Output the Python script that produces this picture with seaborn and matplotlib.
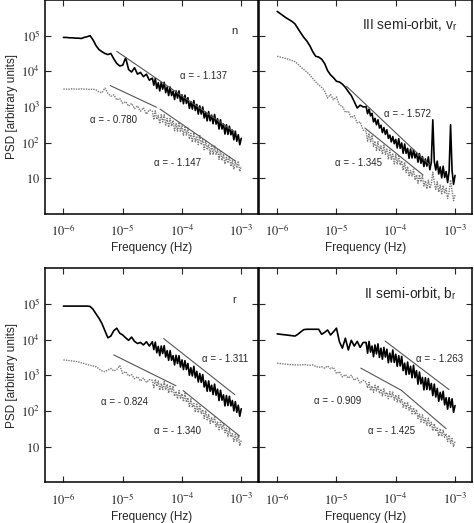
import numpy as np
import matplotlib
matplotlib.use('Agg')
import matplotlib.pyplot as plt
import seaborn as sns

sns.set_style('ticks')
plt.rcParams['font.family'] = ['Liberation Sans', 'DejaVu Sans']
plt.rcParams['mathtext.fontset'] = 'stix'

# log10 frequency (Hz): coarse below 10^-4.5, finer in the noisy part
log_freq = np.round(np.concatenate([np.arange(30) * 0.05 - 6.0,
                                    np.arange(61) * 0.025 - 4.5]), 3)

# log10 PSD, one list per curve
n_solid = [4.95, 4.95, 4.94, 4.94, 4.93, 4.93, 4.92, 4.95, 4.97, 5.00,
           4.88, 4.72, 4.61, 4.55, 4.50, 4.47, 4.50, 4.35, 4.22, 4.15,
           4.17, 4.38, 4.05, 3.98, 4.10, 3.92, 3.97, 3.85, 3.92, 3.75,
           3.81, 3.61, 3.80, 3.52, 3.68, 3.45, 3.69, 3.50, 3.69, 3.40,
           3.56, 3.32, 3.56, 3.32, 3.44, 3.21, 3.45, 3.25, 3.45, 3.15,
           3.34, 3.09, 3.33, 3.10, 3.26, 2.96, 3.15, 2.94, 3.18, 2.90,
           3.07, 2.80, 3.03, 2.80, 3.00, 2.69, 2.85, 2.61, 2.87, 2.61,
           2.77, 2.53, 2.79, 2.52, 2.67, 2.38, 2.64, 2.38, 2.52, 2.24,
           2.50, 2.23, 2.46, 2.22, 2.35, 2.08, 2.32, 2.04, 2.22, 1.94, 2.12]
n_dotted = [3.50, 3.50, 3.50, 3.51, 3.50, 3.50, 3.51, 3.50, 3.50, 3.49,
            3.50, 3.48, 3.42, 3.40, 3.53, 3.38, 3.30, 3.34, 3.20, 3.24,
            3.10, 3.15, 3.02, 3.10, 2.95, 3.03, 2.88, 2.98, 2.80, 2.92,
            2.88, 2.64, 2.89, 2.65, 2.76, 2.53, 2.78, 2.58, 2.78, 2.49,
            2.68, 2.43, 2.68, 2.46, 2.62, 2.33, 2.53, 2.32, 2.57, 2.30,
            2.47, 2.20, 2.43, 2.21, 2.41, 2.10, 2.26, 2.01, 2.28, 2.02,
            2.18, 1.94, 2.20, 1.94, 2.09, 1.80, 2.06, 1.80, 1.95, 1.67,
            1.93, 1.67, 1.91, 1.67, 1.80, 1.53, 1.78, 1.50, 1.68, 1.40,
            1.59, 1.43, 1.62, 1.33, 1.49, 1.25, 1.49, 1.29, 1.48, 1.19, 1.34]
vr_solid = [5.68, 5.62, 5.56, 5.50, 5.45, 5.40, 5.33, 5.20, 5.07, 4.95,
            4.85, 4.72, 4.55, 4.42, 4.40, 4.34, 4.22, 4.02, 3.90, 3.82,
            3.72, 3.70, 3.64, 3.55, 3.43, 3.32, 3.15, 2.97, 3.05, 3.00,
            3.01, 2.81, 2.94, 2.75, 2.82, 2.58, 2.68, 2.50, 2.64, 2.41,
            2.49, 2.28, 2.42, 2.23, 2.36, 2.12, 2.21, 2.02, 2.17, 1.97,
            2.09, 1.85, 2.11, 1.84, 1.99, 1.70, 1.96, 1.70, 1.84, 1.56,
            1.82, 1.57, 1.80, 1.57, 1.71, 1.45, 1.69, 1.42, 1.61, 1.33,
            1.54, 1.34, 1.60, 1.24, 1.45, 2.64, 1.48, 1.23, 1.48, 1.12,
            1.32, 1.01, 1.34, 1.02, 1.19, 0.88, 1.20, 2.50, 1.21, 0.83, 1.08]
vr_dotted = [4.42, 4.40, 4.38, 4.36, 4.33, 4.30, 4.27, 4.20, 4.12, 4.05,
             3.98, 3.90, 3.80, 3.70, 3.62, 3.55, 3.45, 3.25, 3.35, 3.20,
             3.28, 3.05, 3.02, 2.85, 2.88, 2.70, 2.76, 2.55, 2.58, 2.35,
             2.32, 2.04, 2.26, 2.02, 2.21, 1.89, 2.04, 1.78, 2.03, 1.76,
             1.91, 1.67, 1.93, 1.67, 1.82, 1.53, 1.79, 1.53, 1.68, 1.40,
             1.66, 1.39, 1.62, 1.37, 1.49, 1.22, 1.45, 1.16, 1.33, 1.05,
             1.22, 1.06, 1.25, 0.95, 1.10, 0.86, 1.10, 0.90, 1.07, 0.78,
             0.93, 0.70, 0.95, 0.72, 0.85, 1.17, 0.88, 0.69, 0.90, 0.61,
             0.81, 0.56, 0.80, 0.57, 0.72, 0.43, 0.62, 0.95, 0.65, 0.37, 0.53]
r_solid = [4.94, 4.94, 4.94, 4.94, 4.94, 4.94, 4.94, 4.94, 4.94, 4.93,
           4.85, 4.72, 4.60, 4.45, 4.25, 4.05, 4.10, 4.25, 4.32, 4.18,
           4.13, 4.05, 3.98, 4.07, 3.95, 3.89, 3.92, 3.85, 3.94, 3.82,
           3.94, 3.72, 3.93, 3.63, 3.81, 3.55, 3.82, 3.61, 3.83, 3.51,
           3.69, 3.42, 3.69, 3.42, 3.55, 3.29, 3.56, 3.33, 3.55, 3.23,
           3.43, 3.16, 3.41, 3.16, 3.33, 3.00, 3.21, 2.98, 3.25, 2.93,
           3.11, 2.81, 3.05, 2.80, 3.02, 2.67, 2.84, 2.55, 2.84, 2.55,
           2.72, 2.46, 2.75, 2.44, 2.61, 2.29, 2.58, 2.30, 2.45, 2.14,
           2.43, 2.15, 2.41, 2.14, 2.29, 2.00, 2.26, 1.96, 2.16, 1.85, 2.06]
r_dotted = [3.43, 3.42, 3.41, 3.40, 3.39, 3.38, 3.35, 3.33, 3.30, 3.28,
            3.26, 3.24, 3.18, 3.12, 3.10, 3.15, 3.19, 3.12, 3.16, 3.27,
            3.05, 3.10, 2.98, 3.02, 2.90, 2.96, 2.84, 2.92, 2.80, 2.88,
            2.86, 2.65, 2.89, 2.69, 2.84, 2.58, 2.77, 2.60, 2.82, 2.59,
            2.75, 2.50, 2.72, 2.51, 2.70, 2.41, 2.55, 2.34, 2.57, 2.34,
            2.48, 2.26, 2.49, 2.24, 2.37, 2.10, 2.34, 2.10, 2.21, 1.96,
            2.19, 1.95, 2.16, 1.93, 2.04, 1.79, 2.01, 1.75, 1.90, 1.65,
            1.81, 1.66, 1.83, 1.56, 1.69, 1.47, 1.68, 1.49, 1.65, 1.39,
            1.52, 1.29, 1.50, 1.27, 1.36, 1.14, 1.34, 1.15, 1.31, 1.03, 1.18]
br_solid = [4.16, 4.15, 4.14, 4.13, 4.12, 4.11, 4.10, 4.15, 4.22, 4.28,
            4.29, 4.29, 4.29, 4.29, 4.29, 4.15, 4.20, 4.27, 4.13, 4.22,
            4.32, 3.94, 3.76, 4.04, 3.71, 3.98, 3.82, 3.95, 3.78, 3.92,
            3.92, 3.62, 3.95, 3.65, 3.82, 3.52, 3.85, 3.60, 3.88, 3.50,
            3.76, 3.45, 3.78, 3.51, 3.73, 3.35, 3.62, 3.37, 3.71, 3.36,
            3.59, 3.25, 3.55, 3.26, 3.53, 3.13, 3.34, 3.02, 3.37, 3.03,
            3.25, 2.93, 3.28, 2.93, 3.13, 2.75, 3.09, 2.76, 2.94, 2.59,
            2.93, 2.60, 2.91, 2.59, 2.77, 2.43, 2.75, 2.39, 2.63, 2.27,
            2.52, 2.31, 2.55, 2.17, 2.37, 2.05, 2.37, 2.10, 2.34, 1.96, 2.15]
br_dotted = [3.34, 3.33, 3.32, 3.31, 3.30, 3.30, 3.29, 3.29, 3.29, 3.30,
             3.29, 3.28, 3.29, 3.25, 3.22, 3.24, 3.20, 3.26, 3.18, 3.22,
             3.05, 3.10, 2.95, 3.02, 2.92, 3.00, 2.86, 2.92, 2.78, 2.86,
             2.80, 2.64, 2.80, 2.57, 2.70, 2.52, 2.72, 2.56, 2.71, 2.49,
             2.61, 2.42, 2.62, 2.43, 2.52, 2.34, 2.54, 2.37, 2.53, 2.30,
             2.45, 2.25, 2.43, 2.23, 2.35, 2.10, 2.25, 2.07, 2.25, 2.02,
             2.14, 1.92, 2.09, 1.90, 2.04, 1.79, 1.91, 1.69, 1.89, 1.67,
             1.79, 1.59, 1.80, 1.56, 1.68, 1.44, 1.64, 1.43, 1.52, 1.29,
             1.50, 1.28, 1.46, 1.26, 1.36, 1.14, 1.32, 1.09, 1.23, 1.00, 1.14]

panel_names = ['n', 'III semi-orbit, v$_\\mathregular{r}$',
               'r', 'II semi-orbit, b$_\\mathregular{r}$']
solid_curves = [n_solid, vr_solid, r_solid, br_solid]
dotted_curves = [n_dotted, vr_dotted, r_dotted, br_dotted]

# power-law fits: slope, log f start, log f end, log PSD at start
fit_alpha = [[-1.137, -0.780, -1.147], [-1.572, -1.345],
             [-1.311, -0.824, -1.340], [-1.263, -0.909, -1.425]]
fit_f0 = [[-5.10, -5.21, -4.37], [-4.83, -4.52],
          [-4.31, -5.15, -3.98], [-4.18, -4.59, -3.90]]
fit_f1 = [[-3.11, -4.43, -3.11], [-3.43, -3.54],
          [-3.11, -4.10, -3.03], [-3.10, -3.90, -3.15]]
fit_p0 = [[4.56, 3.60, 2.94], [3.58, 2.41],
          [4.03, 3.57, 2.57], [3.96, 3.20, 2.57]]
# where each alpha label sits (log f, log PSD)
label_pos = [[(-3.64, 3.88), (-5.16, 2.63), (-4.07, 1.43)],
             [(-3.80, 2.81), (-4.62, 1.43)],
             [(-3.27, 3.45), (-4.97, 2.26), (-4.07, 1.44)],
             [(-3.26, 3.45), (-4.98, 2.29), (-4.07, 1.45)]]

fig = plt.figure(figsize=(4.74, 5.23), dpi=100)
boxes = [[0.095, 0.591, 0.449, 0.409], [0.546, 0.591, 0.449, 0.409],
         [0.095, 0.078, 0.449, 0.409], [0.546, 0.078, 0.449, 0.409]]
freq = 10.0 ** log_freq

for k in range(4):
    ax = fig.add_axes(boxes[k])
    sns.lineplot(x=freq, y=10.0 ** np.array(dotted_curves[k]), ax=ax,
                 color='#7a7a7a', linestyle=(0, (1, 0.8)), linewidth=1.0,
                 estimator=None)
    sns.lineplot(x=freq, y=10.0 ** np.array(solid_curves[k]), ax=ax,
                 color='black', linewidth=1.2, estimator=None)
    for a, f0, f1, p0, pos in zip(fit_alpha[k], fit_f0[k], fit_f1[k],
                                  fit_p0[k], label_pos[k]):
        lf = np.array([f0, f1])
        ax.plot(10.0 ** lf, 10.0 ** (p0 + a * (lf - f0)), color='#555555',
                linewidth=0.8)
        ax.text(10.0 ** pos[0], 10.0 ** pos[1],
                'α = - %.3f' % abs(a), fontsize=7, ha='center',
                va='center')
    if k % 2 == 0:
        ax.text(10.0 ** (-3.12), 10.0 ** 5.12, panel_names[k], fontsize=8,
                ha='center', va='center')
    else:
        ax.text(10.0 ** (-2.96), 10.0 ** 5.3, panel_names[k], fontsize=10,
                ha='right', va='center')

    ax.set_xscale('log')
    ax.set_yscale('log')
    ax.set_xlim(10 ** -6.31, 10 ** -2.72)
    ax.set_ylim(1, 1e6)
    ax.set_xticks([1e-6, 1e-5, 1e-4, 1e-3])
    ax.set_xticklabels(['$10^{-6}$', '$10^{-5}$', '$10^{-4}$', '$10^{-3}$'])
    ax.set_yticks([10, 1e2, 1e3, 1e4, 1e5])
    ax.minorticks_off()
    ax.tick_params(direction='in', top=True, right=True, length=4,
                   width=0.8, labelsize=9)
    ax.tick_params(axis='x', pad=7)
    ax.set_xlabel('Frequency (Hz)', fontsize=8.5, labelpad=2)
    if k % 2 == 0:
        ax.set_yticklabels(['$10$', '$10^{2}$', '$10^{3}$', '$10^{4}$',
                            '$10^{5}$'])
        ax.set_ylabel('PSD [arbitrary units]', fontsize=8.5, labelpad=2)
    else:
        ax.set_yticklabels([])
        ax.set_ylabel('')
    for s in ax.spines.values():
        s.set_linewidth(1.1)
        s.set_color('black')

fig.savefig('out.png', dpi=100)
